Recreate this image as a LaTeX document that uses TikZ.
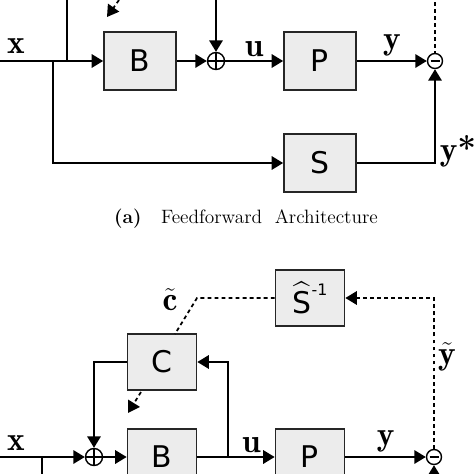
\documentclass[tikz,border=0pt]{standalone}
\usepackage{amsmath,amssymb}
\usepackage{fontspec}
\newfontfamily\blockfont{DejaVu Sans}
\usetikzlibrary{arrows.meta,calc}

\tikzset{
  block/.style={draw=black!85,line width=1pt,fill=gray!15,minimum width=1.44cm,
    minimum height=1.16cm,inner sep=0pt,font=\blockfont\fontsize{17}{17}\selectfont},
  smallblock/.style={block,minimum width=1.38cm,minimum height=1.12cm},
  sum/.style={circle,draw,line width=0.8pt,minimum size=0.34cm,inner sep=0pt,
    path picture={\draw[line width=0.8pt] (path picture bounding box.north) -- (path picture bounding box.south)
      (path picture bounding box.west) -- (path picture bounding box.east);}},
  diff/.style={circle,draw,line width=0.8pt,minimum size=0.3cm,inner sep=0pt,
    path picture={\draw[line width=1.4pt] ([xshift=-0.9mm]path picture bounding box.center)
      -- ([xshift=0.9mm]path picture bounding box.center);}},
  lbl/.style={font=\fontsize{19}{21}\selectfont},
  fb/.style={dash pattern=on 2.2pt off 1.8pt},
}

\begin{document}
\begin{tikzpicture}[x=0.02cm,y=-0.02cm,line width=1pt,
    >={Triangle[length=2.3mm,width=2.7mm]}]
    \useasboundingbox (0,0) rectangle (474,474);

    \begin{scope}
      \node[block] (B1) at (140,61) {B};
      \node[sum] (add1) at (216,61) {};
      \node[block] (P1) at (320,61) {P};
      \node[diff] (sub1) at (435,61) {};
      \node[block] (S1) at (320,163) {S};
      \coordinate (in1) at (0,61);
      \coordinate (j1) at (53,61);
      \coordinate (j2) at (67,61);
      \coordinate (top1) at (67,-5);
      \coordinate (top2) at (216,-5);
      \coordinate (top3) at (435,-5);
      \coordinate (d1) at (119,0);
      \coordinate (d2) at (107,17);
      \draw[->] (in1) -- (B1);
      \draw (j2) -- (top1);
      \draw[->] (j1) |- (S1);
      \draw[->] (B1) -- (add1);
      \draw[->] (top2) -- (add1);
      \draw[->] (add1) -- node[lbl,above,inner sep=2pt] {$\mathbf{u}$} (P1);
      \draw[->] (P1) -- node[lbl,above,inner sep=2pt] {$\mathbf{y}$} (sub1);
      \draw[fb] (top3) -- (sub1);
      \draw[->] (S1) -| (sub1);
      \draw[fb,->] (d1) -- (d2);
      \node[lbl] (xa) at (16,46) {$\mathbf{x}$};
      \node[lbl] (ystar) at (458,151) {$\mathbf{y}$\textbf{*}};
      \node[font=\fontsize{11}{13}\selectfont] (capa) at (246,219)
        {\textbf{(a)}\quad Feedforward\ \ Architecture};
    \end{scope}

    \begin{scope}
      \node[smallblock] (Sinv) at (310,298)
        {$\widehat{\text{S}}$\raisebox{1.1ex}{\fontsize{9}{9}\selectfont -1}};
      \node[smallblock] (C2) at (162,362) {C};
      \node[smallblock] (B2) at (162,457) {B};
      \node[smallblock] (P2) at (310,457) {P};
      \node[sum] (add2) at (94,457) {};
      \node[diff] (sub2) at (434,457) {};
      \coordinate (in2) at (0,457);
      \coordinate (j3) at (42,457);
      \coordinate (bot1) at (42,480);
      \coordinate (bot2) at (434,480);
      \coordinate (tap) at (228,457);
      \coordinate (bend) at (197,298);
      \coordinate (ctop) at (175,334);
      \coordinate (d3) at (141,392);
      \coordinate (d4) at (128,413);
      \draw[->] (in2) -- (add2);
      \draw (j3) -- (bot1);
      \draw[->] (add2) -- (B2);
      \draw[->] (B2) -- node[lbl,above,pos=0.7,inner sep=2pt] {$\mathbf{u}$} (P2);
      \draw[->] (tap) |- (C2);
      \draw[->] (C2) -| (add2);
      \draw[->] (P2) -- node[lbl,above,inner sep=2pt] {$\mathbf{y}$} (sub2);
      \draw[->] (bot2) -- (sub2);
      \draw[fb,->] (sub2) |- (Sinv);
      \draw[fb] (Sinv) -- (bend) -- (ctop);
      \draw[fb,->] (d3) -- (d4);
      \node[lbl] (xb) at (16,443) {$\mathbf{x}$};
      \node[lbl] (ctil) at (170,300) {$\tilde{\mathbf{c}}$};
      \node[lbl] (ytil) at (447,357) {$\tilde{\mathbf{y}}$};
    \end{scope}
  \end{tikzpicture}
\end{document}
